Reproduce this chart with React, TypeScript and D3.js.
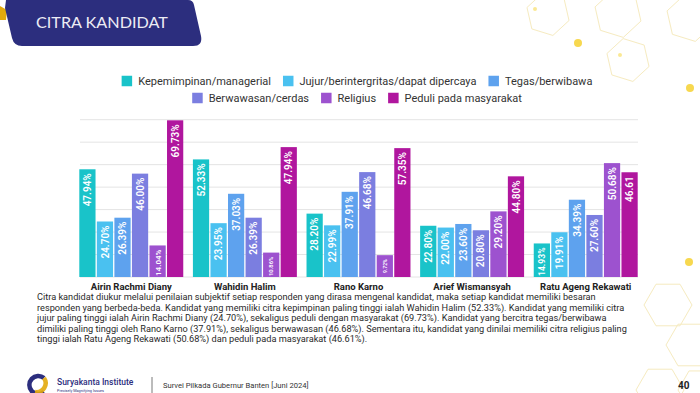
import React from "react";
import * as d3 from "d3";

const candidates = ["Airin Rachmi Diany", "Wahidin Halim", "Rano Karno", "Arief Wismansyah", "Ratu Ageng Rekawati"];
const seriesNames = [
  "Kepemimpinan/managerial",
  "Jujur/berintergritas/dapat dipercaya",
  "Tegas/berwibawa",
  "Berwawasan/cerdas",
  "Religius",
  "Peduli pada masyarakat",
];
const seriesColors = ["#19c3c9", "#4ac1f0", "#5ea2ee", "#7b7ee0", "#9d52cf", "#b0169e"];

const kepemimpinan = [47.94, 52.33, 28.2, 22.8, 14.93];
const jujur = [24.7, 23.95, 22.99, 22.0, 19.91];
const tegas = [26.39, 37.03, 37.91, 23.6, 34.39];
const berwawasan = [46.0, 26.39, 46.68, 20.8, 27.6];
const religius = [14.04, 10.86, 9.72, 29.2, 50.68];
const peduli = [69.73, 57.8, 57.35, 44.8, 46.61];
const peduliLabels = ["69.73%", "47.94%", "57.35%", "44.80%", "46.61"];
const seriesValues = [kepemimpinan, jujur, tegas, berwawasan, religius, peduli];

const yTicks = [0, 10, 20, 30, 40, 50, 60, 70];

const paragraph = [
  "Citra kandidat diukur melalui penilaian subjektif setiap responden yang dirasa mengenal kandidat, maka setiap kandidat memiliki besaran",
  "responden yang berbeda-beda. Kandidat yang memiliki citra kepimpinan paling tinggi ialah Wahidin Halim (52.33%). Kandidat yang memiliki citra",
  "jujur paling tinggi ialah Airin Rachmi Diany (24.70%), sekaligus peduli dengan masyarakat (69.73%). Kandidat yang bercitra tegas/berwibawa",
  "dimiliki paling tinggi oleh Rano Karno (37.91%), sekaligus berwawasan (46.68%). Sementara itu, kandidat yang dinilai memiliki citra religius paling",
  "tinggi ialah Ratu Ageng Rekawati (50.68%) dan peduli pada masyarakat (46.61%).",
];

const FONT = "Roboto, 'Noto Sans', sans-serif";

function measure(text: string, font: string) {
  const c = document.createElement("canvas").getContext("2d")!;
  c.font = font;
  return c.measureText(text).width;
}

function hexPath(cx: number, cy: number, r: number, rot = 0) {
  const pts = d3.range(6).map((i) => {
    const a = (Math.PI / 3) * i + rot;
    return [cx + r * Math.cos(a), cy + r * Math.sin(a)];
  });
  return "M" + pts.map((p) => p.join(",")).join("L") + "Z";
}

export default function App() {
  const W = 700;
  const H = 393;
  const x0 = d3.scaleBand<string>().domain(candidates).range([79.3, 637.7]).paddingInner(0.085).paddingOuter(0);
  const x1 = d3.scaleBand<string>().domain(seriesNames).range([0, x0.bandwidth()]).paddingInner(0.075);
  const y = d3.scaleLinear().domain([0, 70]).range([277, 119.7]);

  // legend layout
  const legFont = `11px ${FONT}`;
  const rows = [seriesNames.slice(0, 3), seriesNames.slice(3)];
  const sw = 10.5;
  const gapSwText = 6;
  const gapItems = 12;
  const legendItems: { name: string; color: string; x: number; y: number }[] = [];
  rows.forEach((row, ri) => {
    const widths = row.map((n) => sw + gapSwText + measure(n, legFont));
    const total = d3.sum(widths) + gapItems * (row.length - 1);
    let cx = 357 - total / 2;
    row.forEach((n, i) => {
      legendItems.push({ name: n, color: seriesColors[seriesNames.indexOf(n)], x: cx, y: ri === 0 ? 81 : 98 });
      cx += widths[i] + gapItems;
    });
  });

  return (
    <svg width={W} height={H} style={{ position: "absolute", left: 0, top: 0, background: "#fff" }}>
      {/* decorations */}
      <g fill="none" stroke="#f3e3a6" strokeWidth={1} opacity={0.7}>
        <path d={hexPath(548, 14, 22, 0.3)} />
        <path d={hexPath(618, 14, 24, 0.3)} />
        <path d={hexPath(628, 60, 22, 0.3)} />
        <path d={hexPath(690, 18, 24, 0.3)} />
        <path d={hexPath(668, 305, 24, 0)} />
        <path d={hexPath(690, 345, 24, 0)} />
        <path d={hexPath(660, 390, 24, 0)} />
        <path d={hexPath(700, 390, 22, 0)} />
      </g>
      <g fill="#f7d84f">
        <circle cx={578} cy={43} r={4} />
        <circle cx={535} cy={9} r={2} opacity={0.6} />
        <circle cx={620} cy={55} r={2} opacity={0.6} />
        <circle cx={690} cy={88} r={4} />
        <circle cx={689} cy={262} r={4} />
      </g>

      {/* header */}
      <path d="M0,6 L7,10 L6,20 L0,20 Z" fill="#e2a90c" />
      <path
        d="M6,0 L188,0 Q193,0 194,5 L201,36 Q203,46 193,46 L22,46 Q14,46 12,38 L5,8 Z"
        fill="#2c2e7e"
      />
      <text x={36} y={28} fill="#ececf4" fontFamily="Lato, 'Open Sans', sans-serif" fontSize={16.2}>
        CITRA KANDIDAT
      </text>

      {/* legend */}
      {legendItems.map((d) => (
        <g key={d.name}>
          <rect x={d.x} y={d.y - sw / 2} width={sw} height={sw} fill={d.color} />
          <text x={d.x + sw + gapSwText} y={d.y} dy="0.35em" fontFamily={FONT} fontSize={11} fill="#333">
            {d.name}
          </text>
        </g>
      ))}

      {/* gridlines */}
      <g>
        {yTicks.map((t) => (
          <line key={t} x1={80} x2={638} y1={y(t)} y2={y(t)} stroke="#e4e4e4" strokeWidth={1} />
        ))}
      </g>

      {/* bars */}
      {candidates.map((c, ci) => (
        <g key={c} transform={`translate(${x0(c)},0)`}>
          {seriesNames.map((s, si) => {
            const v = seriesValues[si][ci];
            const bx = x1(s)!;
            const top = y(v);
            const h = y(0) - top;
            const label = si === 5 ? peduliLabels[ci] : v.toFixed(2) + "%";
            const fs = Math.min(10, (h - 5) / 3.3);
            const cx = bx + x1.bandwidth() / 2;
            return (
              <g key={s}>
                <rect x={bx} y={top} width={x1.bandwidth()} height={h} fill={seriesColors[si]} />
                <text
                  transform={`translate(${cx},${top + 4}) rotate(-90)`}
                  textAnchor="end"
                  dy="0.36em"
                  fontFamily={FONT}
                  fontWeight={600}
                  fontSize={fs}
                  fill="#fff"
                >
                  {label}
                </text>
              </g>
            );
          })}
          <text
            x={x0.bandwidth() / 2}
            y={290}
            textAnchor="middle"
            fontFamily={FONT}
            fontWeight={700}
            fontSize={9.5}
            fill="#222"
          >
            {c}
          </text>
        </g>
      ))}

      {/* paragraph */}
      <g fontFamily={FONT} fontSize={9.2} fill="#2a2a2a">
        {paragraph.map((l, i) => (
          <text key={i} x={37} y={300 + i * 10.6}>
            {l}
          </text>
        ))}
      </g>

      {/* footer */}
      <g>
        <path d="M44,378 A9,9 0 1,0 44,392" fill="none" stroke="#2c2e7e" strokeWidth={4.5} />
        <path d="M35,392 A9,9 0 0,0 44,378" fill="none" stroke="#e2a90c" strokeWidth={4.5} opacity={0.9} />
        <text x={57} y={385} fontFamily={FONT} fontSize={8.5} fontWeight={500} fill="#2c2e7e">
          Suryakanta Institute
        </text>
        <text x={57} y={392} fontFamily={FONT} fontSize={3.8} fill="#2c2e7e">
          Precisely Magnifying Issues
        </text>
        <line x1={152} x2={152} y1={377} y2={393} stroke="#555" strokeWidth={0.8} />
        <text x={163} y={388} fontFamily={FONT} fontSize={7.6} fill="#333">
          Survei Pilkada Gubernur Banten [Juni 2024]
        </text>
        <text x={678} y={389} fontFamily={FONT} fontSize={10} fontWeight={700} fill="#222">
          40
        </text>
      </g>
    </svg>
  );
}
